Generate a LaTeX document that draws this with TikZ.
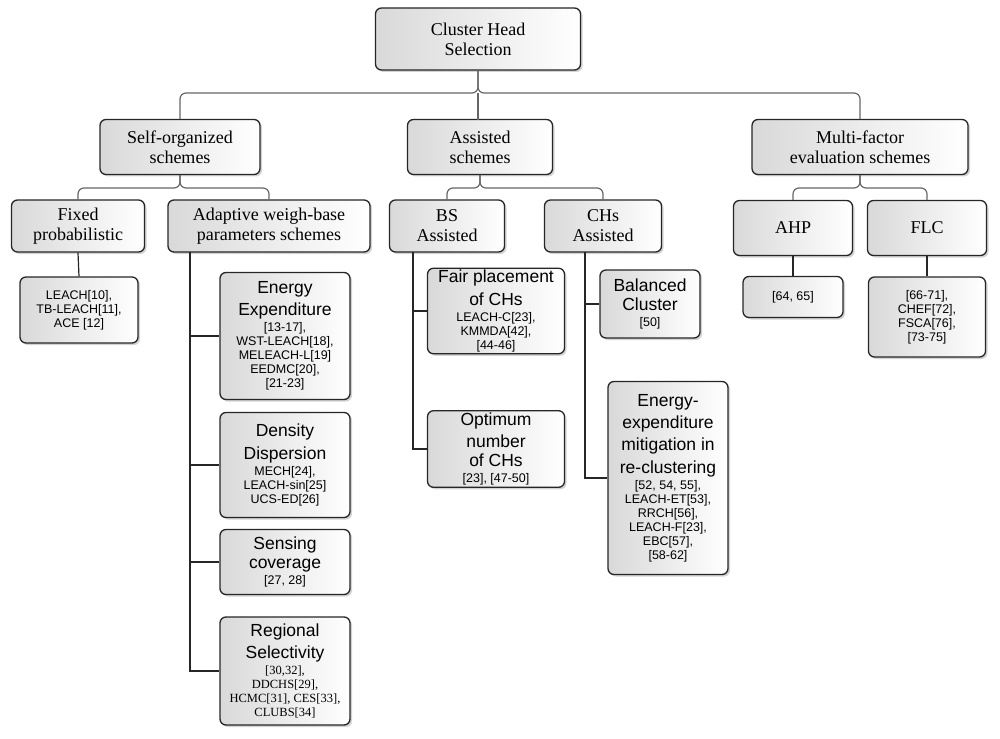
\documentclass[tikz,border=0pt]{standalone}
\usepackage{fontspec}
\setmainfont{Liberation Serif}
\setsansfont{Liberation Sans}
\usetikzlibrary{shadows}
\tikzset{
 box/.style={draw=black!85, line width=1.3pt, rounded corners=6pt, left color=gray!30, right color=white,
   drop shadow={shadow xshift=2pt,shadow yshift=-2pt,opacity=0.35}, align=center, inner sep=2pt},
 hd/.style={box, font=\fontsize{18}{20}\selectfont},
 lf/.style={box, font=\sffamily\fontsize{12.5}{14}\selectfont},
 conn/.style={draw=black!60, line width=1.2pt, rounded corners=6pt},
 vconn/.style={draw=black!85, line width=1.2pt}
}
\newcommand{\ttl}[1]{{\fontsize{17.5}{20}\selectfont #1}}
\begin{document}
\begin{tikzpicture}[x=1pt,y=-1pt]
\useasboundingbox (0,0) rectangle (1000,738);
% headers
\node[hd,minimum width=205,minimum height=62] (root) at (478,39) {Cluster Head\\Selection};
\node[hd,minimum width=160,minimum height=55] (self) at (180,147) {Self-organized\\schemes};
\node[hd,minimum width=145,minimum height=55] (ass) at (480,147) {Assisted\\schemes};
\node[hd,minimum width=216,minimum height=55] (multi) at (860,147) {Multi-factor\\evaluation schemes};
\node[hd,minimum width=133,minimum height=52] (fixed) at (78,226) {Fixed\\probabilistic};
\node[hd,minimum width=202,minimum height=52] (adapt) at (269,226) {Adaptive weigh-base\\parameters schemes};
\node[hd,minimum width=115,minimum height=52] (bs) at (447,226) {BS\\Assisted};
\node[hd,minimum width=117,minimum height=52] (chs) at (603,226) {CHs\\Assisted};
\node[hd,minimum width=119,minimum height=55] (ahp) at (793,228) {AHP};
\node[hd,minimum width=119,minimum height=55] (flc) at (927,228) {FLC};
% leaves
\node[lf,minimum width=118,minimum height=66] (l1) at (79,310) {LEACH[10],\\TB-LEACH[11],\\ACE [12]};
\node[lf,minimum width=130,minimum height=127] (ee) at (285,336) {\ttl{Energy}\\[5pt]\ttl{Expenditure}\\[2pt]{}[13-17],\\WST-LEACH[18],\\MELEACH-L[19]\\EEDMC[20],\\{}[21-23]};
\node[lf,minimum width=130,minimum height=105] (dd) at (285,465) {\ttl{Density}\\[5pt]\ttl{Dispersion}\\[2pt]MECH[24],\\LEACH-sin[25]\\UCS-ED[26]};
\node[lf,minimum width=130,minimum height=65] (sc) at (285,562) {\ttl{Sensing}\\[5pt]\ttl{coverage}\\[2pt]{}[27, 28]};
\node[lf,minimum width=130,minimum height=108] (rs) at (285,671) {\ttl{Regional}\\[5pt]\ttl{Selectivity}\\[2pt]\rmfamily[30,32],\\\rmfamily DDCHS[29],\\\rmfamily HCMC[31], CES[33],\\\rmfamily CLUBS[34]};
\node[lf,minimum width=137,minimum height=82] (fp) at (496,311) {\ttl{Fair placement}\\[5pt]\ttl{of CHs}\\[2pt]LEACH-C[23],\\KMMDA[42],\\{}[44-46]};
\node[lf,minimum width=137,minimum height=72] (on) at (496,449) {\ttl{Optimum}\\[5pt]\ttl{number}\\[5pt]\ttl{of CHs}\\[2pt]{}[23], [47-50]};
\node[lf,minimum width=100,minimum height=68] (bc) at (650,304) {\ttl{Balanced}\\[5pt]\ttl{Cluster}\\[2pt]{}[50]};
\node[lf,minimum width=120,minimum height=193] (em) at (668,478) {\ttl{Energy-}\\[5pt]\ttl{expenditure}\\[5pt]\ttl{mitigation in}\\[5pt]\ttl{re-clustering}\\[2pt]{}[52, 54, 55],\\LEACH-ET[53],\\RRCH[56],\\LEACH-F[23],\\EBC[57],\\{}[58-62]};
\node[lf,minimum width=100,minimum height=41] (ah1) at (793,297) {[64, 65]};
\node[lf,minimum width=117,minimum height=80] (fl1) at (927,317) {[66-71],\\CHEF[72],\\FSCA[76],\\{}[73-75]};
% connectors
\draw[conn] (root.south) -- (478,93) -| (self.north);
\draw[conn] (root.south) -- (478,93) -| (multi.north);
\draw[conn] (478,93) -- (478,120);
\draw[conn] (ass.south) -- (480,188) -| (bs.north);
\draw[conn] (ass.south) -- (480,188) -| (chs.north);
\draw[conn] (self.south) -- (180,188) -| (fixed.north);
\draw[conn] (self.south) -- (180,188) -| (adapt.north);
\draw[conn] (multi.south) -- (860,188) -| (ahp.north);
\draw[conn] (multi.south) -- (860,188) -| (flc.north);
\draw[vconn] (fixed.south) -- (l1.north);
\draw[vconn] (ahp.south) -- (ah1.north);
\draw[vconn] (flc.south) -- (fl1.north);
\draw[vconn] (190,252) |- (rs.west);
\foreach \n in {ee,dd,sc} \draw[vconn] (190,0 |- \n.west) -- (\n.west);
\draw[vconn] (413,252) |- (on.west);
\draw[vconn] (413,0 |- fp.west) -- (fp.west);
\draw[vconn] (585,252) |- (em.west);
\draw[vconn] (585,0 |- bc.west) -- (bc.west);
\end{tikzpicture}
\end{document}
